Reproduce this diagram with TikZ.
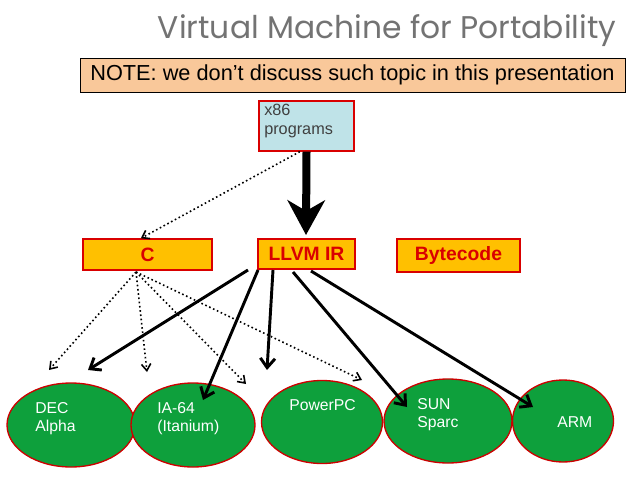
\documentclass[tikz,border=0pt]{standalone}
\usepackage{fontspec}
\setmainfont{Liberation Sans}
\newfontfamily\titlefont{Poppins}
\usetikzlibrary{arrows.meta,shapes.geometric}
\definecolor{gfill}{HTML}{0EA03C}
\definecolor{ofill}{HTML}{FFC000}
\definecolor{bfill}{HTML}{BFE3E8}
\definecolor{nfill}{HTML}{F9C89A}
\begin{document}
\begin{tikzpicture}[x=0.75pt,y=-0.75pt,
  cpu/.style={ellipse,draw=red!80!black,fill=gfill,line width=1pt},
  lang/.style={draw=red!85!black,fill=ofill,line width=1pt,text=red!85!black,font=\bfseries\fontsize{14.5}{16}\selectfont},
  wt/.style={text=white,font=\fontsize{11.8}{13.5}\selectfont,align=left,anchor=north west,inner sep=0},
  dots/.style={dotted,line width=1.2pt,-{Straight Barb[length=5pt,width=7pt]}},
  solid/.style={line width=2.2pt,-{Straight Barb[length=7pt,width=11pt]}}]
\useasboundingbox (0,0) rectangle (638,478);
% title and note
\node[anchor=east,text=black!55,font=\titlefont\fontsize{23.5}{27}\selectfont] (title) at (621,31) {Virtual Machine for Portability};
\node[draw=black,fill=nfill,minimum width=545*0.75pt,minimum height=34*0.75pt,inner sep=0,font=\fontsize{16.3}{18}\selectfont] (note) at (352.5,75) {NOTE: we don't discuss such topic in this presentation};
% x86
\node[draw=red!85!black,fill=bfill,line width=1pt,minimum width=95*0.75pt,minimum height=50*0.75pt] (x86) at (306.5,126) {};
\node[wt,text=black!75,font=\fontsize{12.2}{14}\selectfont] (x86t) at (264,104) {x86\\programs};
% language boxes
\node[lang,minimum width=129*0.75pt,minimum height=31*0.75pt,inner sep=0] (C) at (147.5,254.5) {C};
\node[lang,minimum width=97*0.75pt,minimum height=30*0.75pt,inner sep=0] (IR) at (306.5,254) {LLVM IR};
\node[lang,minimum width=123*0.75pt,minimum height=33*0.75pt,inner sep=0] (BC) at (458.5,255.5) {Bytecode};
% cpus
\node[cpu,minimum width=128*0.75pt,minimum height=84*0.75pt] (dec) at (71,425) {};
\node[cpu,minimum width=124*0.75pt,minimum height=84*0.75pt] (ia) at (193,425) {};
\node[cpu,minimum width=121*0.75pt,minimum height=83*0.75pt] (ppc) at (322,422) {};
\node[cpu,minimum width=128*0.75pt,minimum height=84*0.75pt] (sun) at (448,421) {};
\node[cpu,minimum width=101*0.75pt,minimum height=82*0.75pt] (arm) at (563,421) {};
\node[wt] (dect) at (35,402) {DEC\\Alpha};
\node[wt] (iat) at (157,402) {IA-64\\(Itanium)};
\node[wt] (ppct) at (289,399) {PowerPC};
\node[wt] (sunt) at (417,398) {SUN\\Sparc};
\node[wt] (armt) at (557,416) {ARM};
% arrows
\draw[line width=6pt,-{Stealth[length=26pt,width=28pt,inset=8pt]}] (x86.south) -- (306,235) coordinate (bigend);
\draw[dots] ([xshift=-5pt]x86.south) -- ([xshift=-5pt]C.north);
\coordinate (co) at (136,272);
\draw[dots] (co) -- (49,370);
\draw[dots] (co) -- (147,372);
\draw[dots] (co) -- (246,384);
\draw[dots] (co) -- (362,380);
\draw[solid] (248,270) -- (88,370);
\draw[solid] (258,270) -- (203,400);
\draw[solid] (273,270) -- (267,370);
\draw[solid] (293,272) -- (407,407);
\draw[solid] (311,271) -- (533,407);
\end{tikzpicture}
\end{document}
